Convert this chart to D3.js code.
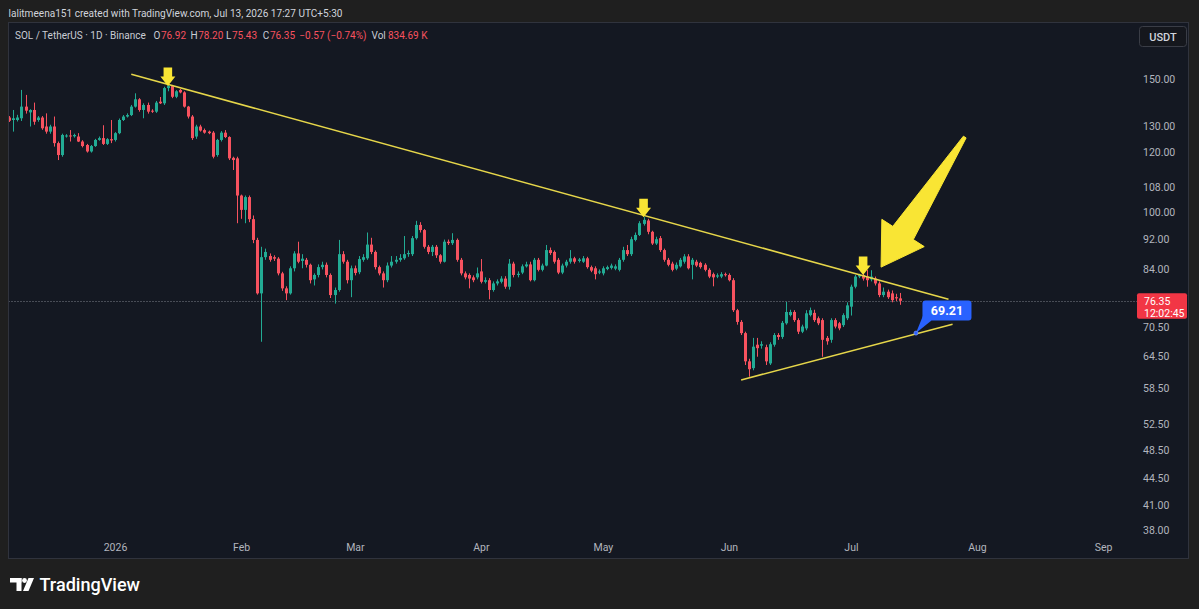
<!DOCTYPE html>
<html><head><meta charset="utf-8">
<script src="https://cdn.jsdelivr.net/npm/d3@7"></script>
<style>
html,body{margin:0;padding:0;background:#1f1f1f;}
svg{display:block;}
</style></head>
<body>
<svg id="chart" width="1199" height="609"></svg>
<script>
// ---------------- DATA ----------------
const firstCandleDate = "2025-12-06";
// [open, high, low, close] one per day
const ohlc = [
[133.4,134.0,131.6,132.1],[132.4,136.5,127.8,133.1],[132.4,134.5,131.8,133.4],[133.1,145.1,132.0,137.9],
[137.9,142.9,135.0,136.2],[135.5,136.8,129.8,136.5],[136.5,139.6,130.5,131.7],[132.4,134.0,131.7,133.4],
[133.4,134.0,128.5,129.1],[129.8,135.1,127.0,127.8],[127.8,130.5,127.0,129.8],[129.8,133.8,122.1,123.4],
[123.4,124.0,117.2,119.0],[119.0,127.0,118.4,126.5],[126.1,126.8,125.5,126.3],[126.3,128.4,124.0,126.0],
[126.0,127.0,125.5,126.5],[125.9,127.2,123.8,124.0],[124.0,124.5,121.8,122.3],[122.7,123.1,119.9,120.3],
[120.3,122.7,119.9,122.3],[122.3,125.0,122.0,124.6],[124.6,125.9,124.3,125.3],[125.3,130.3,122.7,123.1],
[123.1,125.3,122.7,124.9],[124.9,132.4,123.4,124.4],[124.6,127.6,124.0,127.2],[127.2,133.0,126.8,132.4],
[132.4,134.4,132.0,133.8],[133.8,135.1,133.4,134.4],[134.4,138.6,134.0,137.9],[137.9,143.6,137.5,141.0],
[141.0,141.5,135.8,136.5],[136.5,139.3,133.1,138.6],[138.6,139.6,135.0,135.8],[136.2,136.8,135.3,135.9],
[135.8,140.3,135.3,139.6],[140.0,142.0,139.0,139.3],[139.3,146.5,138.6,145.9],[145.9,147.6,144.5,146.8],
[146.8,147.3,141.5,142.1],[142.1,145.0,141.5,144.5],[145.1,145.5,143.6,144.0],[144.0,144.5,137.5,137.9],
[137.9,138.2,133.0,133.8],[133.8,134.4,124.6,125.3],[125.9,130.5,125.0,129.8],[129.8,130.5,127.8,128.2],
[128.4,129.0,127.0,127.4],[127.8,128.2,126.8,127.2],[127.4,128.0,117.8,118.4],[119.0,125.0,118.4,124.6],
[124.6,128.0,124.0,127.4],[127.4,128.4,125.3,125.7],[125.7,126.0,117.2,117.8],[118.0,118.4,113.7,117.2],
[117.8,118.4,96.7,105.2],[105.2,105.5,98.0,100.7],[100.7,105.2,96.7,104.7],[104.7,105.2,97.0,97.9],
[97.9,99.0,91.0,91.9],[91.9,92.5,77.8,78.1],[78.1,90.0,67.4,87.2],[87.2,89.5,86.5,88.6],
[87.5,88.2,86.0,86.5],[87.2,87.7,86.2,86.8],[86.8,87.2,82.5,83.0],[83.0,83.4,78.7,79.3],
[79.3,79.8,76.5,78.1],[78.1,84.8,77.8,84.3],[84.3,88.8,83.5,88.2],[88.2,91.4,85.6,86.0],
[86.2,88.0,84.3,86.8],[86.5,87.0,84.5,85.2],[85.2,85.5,80.5,81.3],[81.5,83.0,80.0,82.6],
[82.6,85.3,82.0,84.6],[84.6,86.0,84.0,85.2],[85.2,85.8,82.0,82.6],[82.6,83.0,77.0,77.7],
[77.7,79.5,75.7,78.9],[78.9,91.9,78.5,88.0],[88.0,88.8,85.5,86.0],[86.0,86.5,80.5,81.3],
[81.3,85.0,77.2,84.3],[84.3,85.0,82.5,83.1],[83.3,87.5,82.8,86.7],[86.5,88.0,86.0,87.2],
[86.9,94.0,86.5,90.6],[90.6,92.5,88.0,88.6],[88.6,89.0,84.0,84.6],[84.6,85.0,82.5,83.0],
[83.0,83.5,79.5,81.3],[81.3,85.8,80.8,85.0],[85.0,87.5,84.5,86.0],[86.0,87.5,85.5,86.5],
[86.5,88.0,86.0,87.0],[86.9,93.0,86.5,88.0],[88.0,89.0,87.3,88.3],[88.0,93.0,87.5,92.4],
[92.4,97.4,92.0,96.2],[96.2,97.0,94.0,94.7],[94.7,95.0,89.5,90.0],[90.0,90.5,88.0,88.6],
[88.6,90.5,87.5,90.0],[90.0,90.5,87.0,87.7],[87.7,88.0,85.5,86.0],[86.0,92.0,85.8,91.4],
[91.4,92.0,90.5,91.0],[91.0,93.8,90.5,91.9],[91.9,92.3,86.0,86.5],[86.5,87.0,82.5,83.0],
[83.0,83.5,81.5,82.0],[82.6,83.0,79.3,81.7],[82.0,82.5,80.8,81.3],[82.0,84.5,81.5,83.0],
[83.5,86.7,80.5,80.9],[80.9,82.0,80.5,81.3],[81.3,81.8,76.7,78.9],[78.9,81.0,78.5,80.5],
[80.5,81.5,80.0,81.0],[80.9,82.3,80.5,81.7],[81.7,82.3,79.2,79.7],[79.7,86.7,79.0,85.5],
[85.5,86.0,82.0,82.6],[82.6,83.5,82.0,82.9],[83.2,85.3,82.8,84.8],[84.8,86.0,84.5,85.3],
[85.3,86.0,81.0,81.3],[81.3,87.0,81.0,86.5],[86.5,87.0,83.5,83.9],[83.9,85.5,83.5,85.0],
[85.0,90.5,84.8,89.1],[89.1,89.8,87.8,88.3],[88.6,89.0,85.5,86.0],[86.5,87.0,82.8,83.2],
[83.2,85.5,82.8,85.0],[85.0,86.5,84.5,86.0],[86.0,89.1,85.5,86.9],[86.9,87.3,85.5,86.0],
[86.2,87.0,85.8,86.6],[86.0,87.5,85.7,86.9],[86.9,87.3,84.2,84.6],[84.6,85.0,83.3,83.7],
[84.3,84.8,81.5,82.8],[83.2,84.0,82.8,83.5],[83.0,84.8,82.5,84.3],[84.1,85.0,83.8,84.6],
[84.4,85.5,84.0,85.0],[84.2,85.3,83.8,84.8],[83.9,87.0,83.5,86.5],[86.5,90.0,86.0,89.1],
[89.1,90.5,87.5,88.0],[88.0,92.8,87.5,92.1],[91.9,94.0,91.5,93.3],[93.3,97.3,93.0,96.7],
[96.5,98.5,96.0,97.7],[97.5,98.0,93.5,94.2],[94.2,94.5,90.5,90.9],[90.9,92.8,90.5,92.1],
[92.4,93.0,88.6,89.1],[89.1,89.5,86.0,86.5],[86.5,87.0,84.8,85.2],[85.5,86.0,83.5,83.9],
[84.2,85.8,83.8,85.2],[84.8,87.0,84.5,86.5],[86.0,88.0,85.5,87.4],[87.4,88.0,84.0,84.3],
[85.2,87.0,81.5,86.5],[86.0,86.5,84.6,85.0],[85.7,86.0,84.2,84.6],[85.2,85.6,83.5,83.9],
[83.9,84.3,81.8,82.2],[82.8,83.2,79.8,82.0],[82.2,83.0,81.8,82.5],[82.2,83.3,81.8,82.8],
[82.8,83.2,82.2,82.6],[82.6,83.0,81.0,81.3],[81.3,81.8,73.8,74.2],[74.2,74.5,71.0,71.6],
[71.6,72.0,68.8,69.2],[69.2,69.5,62.8,63.5],[63.5,64.0,60.6,62.0],[62.2,68.2,61.8,66.4],
[66.8,68.2,64.4,66.1],[66.6,67.5,66.0,66.9],[66.3,66.8,62.8,63.5],[63.1,67.3,62.8,66.9],
[66.8,69.2,66.4,68.8],[68.8,69.2,67.8,68.4],[68.4,71.8,68.0,71.4],[71.3,76.1,71.0,73.8],
[73.1,74.3,72.8,73.8],[73.8,74.2,71.6,72.0],[72.0,72.4,69.0,69.5],[69.5,71.0,69.2,70.6],
[70.2,74.2,69.8,73.5],[73.1,74.8,72.8,74.2],[73.6,74.3,71.6,72.0],[72.4,72.8,70.9,71.3],
[72.0,72.4,64.4,67.8],[68.2,68.6,66.8,67.5],[67.8,72.4,67.2,72.0],[72.0,72.4,70.2,70.6],
[71.3,71.6,69.8,70.2],[70.9,73.5,70.5,73.1],[72.4,76.0,72.0,75.3],[75.0,80.2,73.0,79.7],
[79.7,82.6,79.3,82.2],[82.2,82.9,81.8,82.6],[82.6,82.9,81.2,81.7],[82.2,83.9,79.7,81.3],
[81.5,83.8,81.0,82.2],[81.7,82.2,80.0,80.5],[80.5,81.0,77.2,77.7],[77.7,79.5,77.2,78.5],
[78.5,79.0,76.8,77.2],[78.1,78.8,76.0,76.5],[77.2,78.0,76.3,76.92],[76.92,78.20,75.43,76.35]
];
const volumeLabel = "834.69 K";
const countdownLabel = "12:02:45";
const priceTicks = [150, 130, 120, 108, 100, 92, 84, 70.5, 64.5, 58.5, 52.5, 48.5, 44.5, 41, 38];
const monthTicks = ["2026-01-01","2026-02-01","2026-03-01","2026-04-01","2026-05-01","2026-06-01","2026-07-01","2026-08-01","2026-09-01"];
const monthLabels = ["2026","Feb","Mar","Apr","May","Jun","Jul","Aug","Sep"];
// drawings (anchored by date / price)
const trendLines = [
  {from:["2026-01-05",152.2], to:["2026-07-25",76.7]},
  {from:["2026-06-04",60.0],  to:["2026-07-26",71.1]}
];
const markerArrows = [
  {date:"2026-01-14", price:146.8},
  {date:"2026-05-11", price:98.5},
  {date:"2026-07-04", price:82.6}
];
const bigArrow = {tail:["2026-07-29",125.7], tip:["2026-07-08T10:00:00Z",84.6]};
const callout = {date:"2026-07-17", price:69.21};
const headerText = "lalitmeena151 created with TradingView.com, Jul 13, 2026 17:27 UTC+5:30";

// ---------------- DRAW ----------------
const W = 1199, H = 609;
const FONT = "Roboto, 'Liberation Sans', sans-serif";
const UP = "#22ab94", DOWN = "#f7525f", AXIS_TXT = "#b2b5be";
const svg = d3.select("#chart");
const parse = s => new Date(s.length === 10 ? s + "T00:00:00Z" : s);

svg.append("rect").attr("width", W).attr("height", H).attr("fill", "#1f1f1f");
const P = {x0: 8.5, y0: 22.5, x1: 1188.5, y1: 558.5, plotRight: 1137};
svg.append("rect").attr("x", P.x0).attr("y", P.y0)
  .attr("width", P.x1 - P.x0).attr("height", P.y1 - P.y0)
  .attr("fill", "#141822").attr("stroke", "#30333d");

const x = d3.scaleUtc().domain([parse("2026-01-01"), parse("2026-09-01")]).range([115, 1103]);
const y = d3.scaleLog().domain([38, 150]).range([530, 79]);

const start = parse(firstCandleDate);
const dates = d3.utcDays(start, d3.utcDay.offset(start, ohlc.length));

svg.append("defs").append("clipPath").attr("id", "plot")
  .append("rect").attr("x", P.x0 + 0.5).attr("y", P.y0 + 0.5)
  .attr("width", P.plotRight - P.x0).attr("height", 540 - P.y0);
const plot = svg.append("g").attr("clip-path", "url(#plot)");

// last price dotted line
const last = ohlc[ohlc.length - 1];
plot.append("line").attr("x1", P.x0).attr("x2", P.plotRight)
  .attr("y1", Math.round(y(last[3])) + 0.5).attr("y2", Math.round(y(last[3])) + 0.5)
  .attr("stroke", "#7d808a").attr("stroke-width", 1).attr("stroke-dasharray", "1,2");

// candles
const cg = plot.append("g");
const candle = cg.selectAll("g.c").data(ohlc).enter().append("g");
candle.each(function(d, i) {
  const g = d3.select(this);
  const cx = Math.round(x(dates[i])) + 0.5;
  const col = d[3] >= d[0] ? UP : DOWN;
  g.append("line").attr("x1", cx).attr("x2", cx)
    .attr("y1", y(d[1])).attr("y2", y(d[2])).attr("stroke", col).attr("stroke-width", 1);
  const top = y(Math.max(d[0], d[3])), bot = y(Math.min(d[0], d[3]));
  g.append("rect").attr("x", cx - 1.5).attr("width", 3)
    .attr("y", top).attr("height", Math.max(1, bot - top)).attr("fill", col);
});

// trend lines
plot.selectAll("line.trend").data(trendLines).enter().append("line")
  .attr("x1", d => x(parse(d.from[0]))).attr("y1", d => y(d.from[1]))
  .attr("x2", d => x(parse(d.to[0]))).attr("y2", d => y(d.to[1]))
  .attr("stroke", "#e6d64a").attr("stroke-width", 1.6);

// callout 69.21
const cxp = x(parse(callout.date)), cyp = y(callout.price);
const bx = cxp + 6.5, by = cyp - 32.5, bw = 49, bh = 20;
plot.append("path")
  .attr("d", `M${cxp},${cyp} L${bx + 1},${by + bh - 6} L${bx + 9},${by + bh} Z`)
  .attr("fill", "#2962ff");
plot.append("rect").attr("x", bx).attr("y", by).attr("width", bw).attr("height", bh)
  .attr("rx", 3).attr("fill", "#2962ff");
plot.append("circle").attr("cx", cxp).attr("cy", cyp).attr("r", 2).attr("fill", "#2962ff").attr("stroke", "#6d8dff").attr("stroke-width", 0.8);
plot.append("text").attr("x", bx + bw / 2).attr("y", by + bh / 2 + 4.5)
  .attr("text-anchor", "middle").attr("fill", "#ffffff")
  .style("font", `bold 12.5px ${FONT}`).text(callout.price.toFixed(2));

// small marker arrows (tip pointing down at price)
const ARROW_Y = "#f9e534";
plot.selectAll("path.marker").data(markerArrows).enter().append("path")
  .attr("d", d => {
    const ax = x(parse(d.date)), ay = y(d.price);
    return `M${ax},${ay} L${ax - 7.5},${ay - 9.5} L${ax - 4.3},${ay - 9.5} L${ax - 4.3},${ay - 18.5}` +
           ` L${ax + 4.3},${ay - 18.5} L${ax + 4.3},${ay - 9.5} L${ax + 7.5},${ay - 9.5} Z`;
  })
  .attr("fill", ARROW_Y);

// big arrow
(function() {
  const T = [x(parse(bigArrow.tail[0])), y(bigArrow.tail[1])];
  const Pt = [x(parse(bigArrow.tip[0])), y(bigArrow.tip[1])];
  const dx = T[0] - Pt[0], dy = T[1] - Pt[1], L = Math.hypot(dx, dy);
  const ux = dx / L, uy = dy / L, px = -uy, py = ux;
  const headLen = 40.6, headHalf = 25.2, shaftHalf = 12.2, tailHalf = 1.6;
  const M = [Pt[0] + ux * headLen, Pt[1] + uy * headLen];
  const pts = [
    Pt,
    [M[0] + px * headHalf, M[1] + py * headHalf],
    [M[0] + px * shaftHalf, M[1] + py * shaftHalf],
    [T[0] + px * tailHalf, T[1] + py * tailHalf],
    [T[0] - px * tailHalf, T[1] - py * tailHalf],
    [M[0] - px * shaftHalf, M[1] - py * shaftHalf],
    [M[0] - px * headHalf, M[1] - py * headHalf]
  ];
  plot.append("path").attr("d", "M" + pts.map(p => p.join(",")).join("L") + "Z")
    .attr("fill", ARROW_Y).attr("stroke", ARROW_Y).attr("stroke-linejoin", "round").attr("stroke-width", 1);
})();

// price axis
const yAxis = d3.axisRight(y).tickValues(priceTicks).tickFormat(d3.format(".2f")).tickSize(0).tickPadding(6);
const gy = svg.append("g").attr("transform", `translate(${P.plotRight},0)`).call(yAxis);
gy.select(".domain").remove();
gy.selectAll("text").attr("fill", AXIS_TXT).style("font", `10.5px ${FONT}`);

// time axis
const xAxis = d3.axisBottom(x).tickValues(monthTicks.map(parse))
  .tickFormat((d, i) => monthLabels[i]).tickSize(0).tickPadding(4);
const gx = svg.append("g").attr("transform", "translate(0,540)").call(xAxis);
gx.select(".domain").remove();
gx.selectAll("text").attr("fill", AXIS_TXT).style("font", `10.5px ${FONT}`);

// last price label
const ly = y(last[3]);
svg.append("rect").attr("x", 1137).attr("y", ly - 7.5).attr("width", 50).attr("height", 25.5)
  .attr("rx", 2).attr("fill", "#f23645");
svg.append("text").attr("x", 1144).attr("y", ly + 4).attr("fill", "#ffffff")
  .style("font", `10.5px ${FONT}`).text(last[3].toFixed(2));
svg.append("text").attr("x", 1144).attr("y", ly + 16).attr("fill", "#ffffff")
  .style("font", `10.5px ${FONT}`).text(countdownLabel);

// USDT button
svg.append("rect").attr("x", 1139.5).attr("y", 26.5).attr("width", 47).attr("height", 20)
  .attr("rx", 3).attr("fill", "#15171d").attr("stroke", "#3a3d46");
svg.append("text").attr("x", 1163).attr("y", 40.5).attr("text-anchor", "middle")
  .attr("fill", "#d1d4dc").style("font", `500 11px ${FONT}`).text("USDT");

// header
svg.append("text").attr("x", 8.5).attr("y", 17).attr("fill", "#d1d4dc")
  .attr("textLength", 334).attr("lengthAdjust", "spacingAndGlyphs")
  .style("font", `10.8px ${FONT}`).text(headerText);

// legend: each piece at its reference x, never overlapping the previous piece
const prevClose = ohlc[ohlc.length - 2][3];
const chg = last[3] - prevClose, pct = chg / prevClose * 100;
const fmt = v => (v < 0 ? "\u2212" : "") + Math.abs(v).toFixed(2);
const LG = "#c9ccd4";
const legend = [
  ["SOL / TetherUS \u00b7 1D \u00b7 Binance", LG, 15],
  ["O", LG, 153.5], [last[0].toFixed(2), DOWN, 159.5],
  ["H", LG, 190.5], [last[1].toFixed(2), DOWN, 196.5],
  ["L", LG, 226], [last[2].toFixed(2), DOWN, 230.5],
  ["C", LG, 262.8], [last[3].toFixed(2), DOWN, 268.4],
  [`${fmt(chg)} (${fmt(pct)}%)`, DOWN, 299.3],
  ["Vol", LG, 371.5], [volumeLabel, DOWN, 388]
];
const lg = svg.append("g").style("font", `10px ${FONT}`);
let prevEnd = 0;
legend.forEach(([t, c, lx]) => {
  const el = lg.append("text").attr("y", 39).attr("fill", c).text(t);
  const xx = Math.max(lx, prevEnd + 0.6);
  el.attr("x", xx);
  prevEnd = xx + el.node().getComputedTextLength();
});

// TradingView logo
const logo = svg.append("g").attr("fill", "#ffffff");
logo.append("rect").attr("x", 10).attr("y", 578).attr("width", 11.5).attr("height", 4.5);
logo.append("rect").attr("x", 16.5).attr("y", 578).attr("width", 5).attr("height", 13);
logo.append("circle").attr("cx", 24.5).attr("cy", 580.5).attr("r", 2.4);
logo.append("path").attr("d", "M28.5,578 L34,578 L28.5,591 L23,591 Z");
logo.append("text").attr("x", 39.5).attr("y", 591).attr("textLength", 100.5).attr("lengthAdjust", "spacingAndGlyphs")
  .style("font", `500 18.5px ${FONT}`).text("TradingView");
</script>
</body></html>
